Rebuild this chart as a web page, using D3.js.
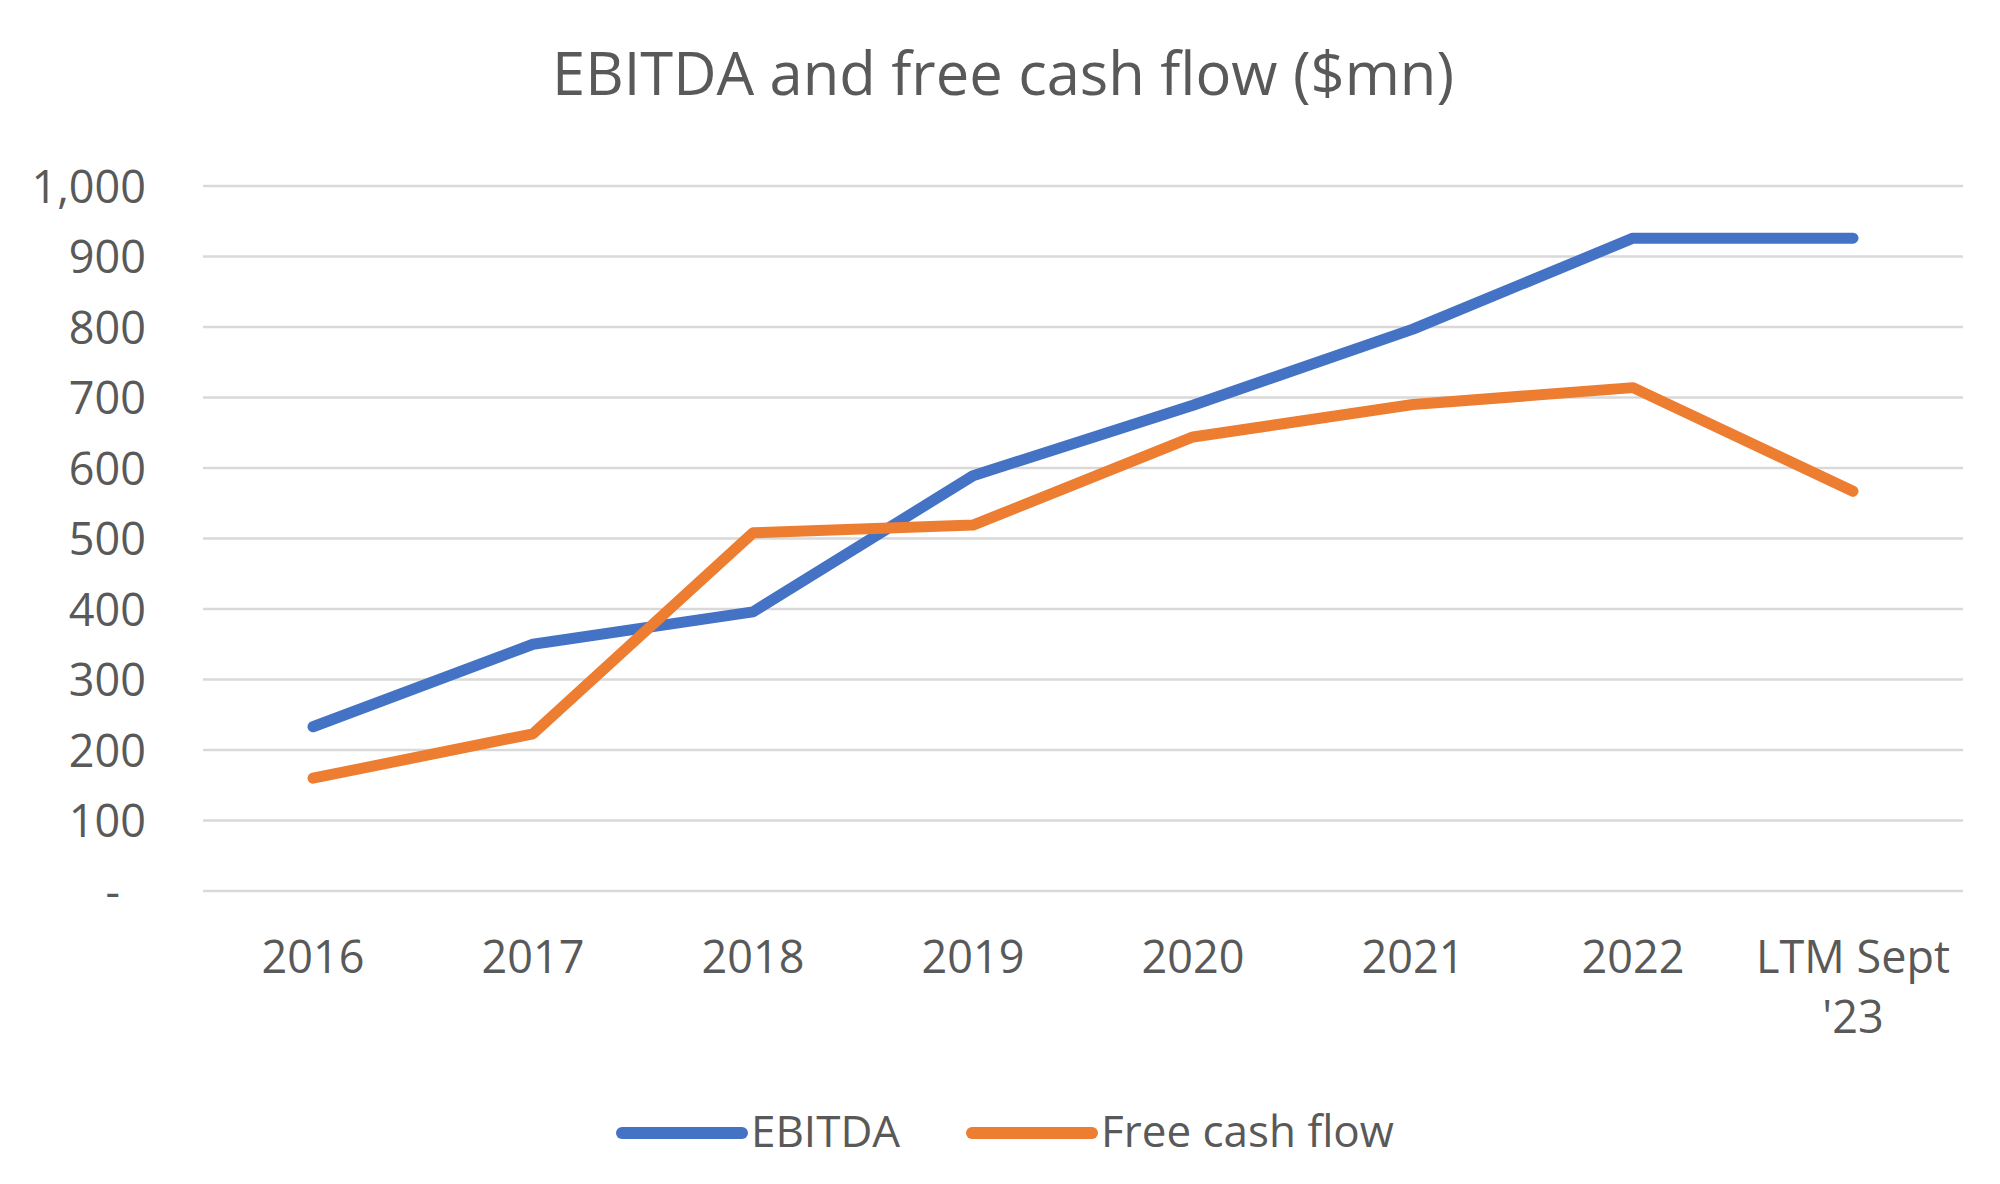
<!DOCTYPE html>
<html>
<head>
<meta charset="utf-8">
<script src="https://cdn.jsdelivr.net/npm/d3@7"></script>
<style>
  html, body { margin: 0; padding: 0; background: #fff; }
  svg text { font-family: "Open Sans", "Noto Sans", sans-serif; fill: #595959; }
</style>
</head>
<body>
<div id="chart"></div>
<script>
// data
const categories = ['2016', '2017', '2018', '2019', '2020', '2021', '2022', "LTM Sept '23"];
const ebitda = [233, 350, 396, 589, 689, 797, 926, 926];
const freeCashFlow = [160, 223, 508, 519, 644, 690, 714, 567];
const yTicks = [0, 100, 200, 300, 400, 500, 600, 700, 800, 900, 1000];

const series = [
  { name: 'EBITDA', values: ebitda, color: '#4472C4' },
  { name: 'Free cash flow', values: freeCashFlow, color: '#ED7D31' }
];

const width = 2000, height = 1184;
const margin = { top: 186, right: 37, bottom: 293, left: 203 };

const svg = d3.select('#chart')
  .append('svg')
  .attr('width', width)
  .attr('height', height)
  .attr('viewBox', `0 0 ${width} ${height}`);

// title
svg.append('text')
  .attr('x', 1003)
  .attr('y', 95)
  .attr('text-anchor', 'middle')
  .attr('font-size', 60)
  .attr('textLength', 902)
  .attr('lengthAdjust', 'spacingAndGlyphs')
  .text('EBITDA and free cash flow ($mn)');

const x = d3.scalePoint()
  .domain(categories)
  .range([margin.left, width - margin.right])
  .padding(0.5);

const y = d3.scaleLinear()
  .domain([0, 1000])
  .range([height - margin.bottom, margin.top]);

// gridlines
svg.append('g')
  .selectAll('line')
  .data(yTicks)
  .enter()
  .append('line')
  .attr('x1', margin.left)
  .attr('x2', width - margin.right)
  .attr('y1', d => y(d))
  .attr('y2', d => y(d))
  .style('stroke', '#D9D9D9')
  .style('stroke-width', '2.5px');

// y axis labels
const yAxis = d3.axisLeft(y)
  .tickValues(yTicks)
  .tickSize(0)
  .tickPadding(57)
  .tickFormat(d => d === 0 ? '-' : d3.format(',')(d));

const yg = svg.append('g')
  .attr('transform', `translate(${margin.left},0)`)
  .call(yAxis);
yg.select('.domain').remove();
yg.selectAll('text')
  .attr('font-size', 45)
  .attr('font-family', null)
  .style('fill', '#595959')
  .attr('dy', '0.36em')
  .attr('dx', d => d === 0 ? -26 : 0);

// x axis labels (wrapped like the original)
const xg = svg.append('g');
xg.selectAll('text')
  .data(categories)
  .enter()
  .append('text')
  .attr('x', d => x(d))
  .attr('y', 973)
  .attr('text-anchor', 'middle')
  .attr('font-size', 45)
  .each(function (d) {
    const parts = d === "LTM Sept '23" ? ['LTM Sept', "'23"] : [d];
    parts.forEach((p, i) => {
      d3.select(this).append('tspan')
        .attr('x', x(d))
        .attr('dy', i === 0 ? 0 : 60)
        .text(p);
    });
  });

// lines
const line = d3.line()
  .x((d, i) => x(categories[i]))
  .y(d => y(d));

svg.append('g')
  .selectAll('path')
  .data(series)
  .enter()
  .append('path')
  .attr('d', d => line(d.values))
  .style('fill', 'none')
  .style('stroke', d => d.color)
  .style('stroke-width', '11px')
  .style('stroke-linecap', 'round')
  .style('stroke-linejoin', 'round');

// legend
const legendPos = [622, 972];
const legend = svg.append('g')
  .selectAll('g')
  .data(series)
  .enter()
  .append('g')
  .attr('transform', (d, i) => `translate(${legendPos[i]},1133)`);

legend.append('line')
  .attr('x1', 0)
  .attr('x2', 120)
  .style('stroke', d => d.color)
  .style('stroke-width', '12px')
  .style('stroke-linecap', 'round');

legend.append('text')
  .attr('x', 129)
  .attr('y', 14)
  .attr('font-size', 44)
  .text(d => d.name);
</script>
</body>
</html>
